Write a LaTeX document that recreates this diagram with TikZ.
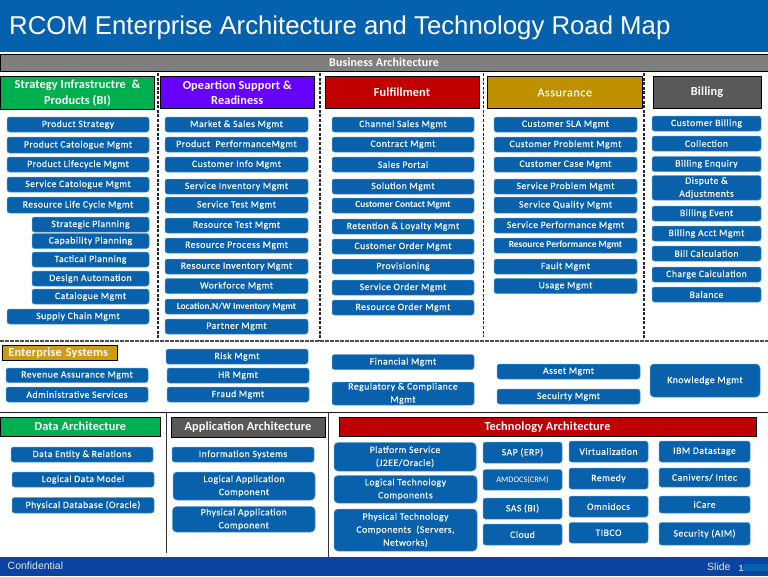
\documentclass[tikz,border=0pt]{standalone}
\usepackage{fontspec}
\setmainfont{Carlito}
\newfontfamily\ttlfont{Liberation Sans}
\newfontfamily\bxfont[LetterSpace=5,FakeBold=0.1]{Carlito}
\newfontfamily\hdfont[LetterSpace=1]{Carlito Bold}
\definecolor{bluebox}{HTML}{0A61AB}
\definecolor{bluetitle}{HTML}{0361AE}
\definecolor{blueedge}{HTML}{4A97C8}
\definecolor{footblue}{HTML}{0B43A0}
\definecolor{grayhead}{HTML}{7F7F7F}
\definecolor{darkhead}{HTML}{595959}
\definecolor{greenhead}{HTML}{00B050}
\definecolor{purplehead}{HTML}{6600FF}
\definecolor{redhead}{HTML}{C00000}
\definecolor{goldhead}{HTML}{BF9000}
\definecolor{goldes}{HTML}{D29A10}
\tikzset{
  ebox/.style={fill=bluebox,draw=blueedge,line width=.5pt,rounded corners=2.5pt,text=white,align=center,inner sep=0pt,font=\fontsize{9.7}{13}\selectfont\bxfont},
  tightbox/.style={ebox,font=\fontsize{9.4}{11}\selectfont\bfseries},
  headbox/.style={draw=black,line width=1pt,text=white,align=center,inner sep=0pt,font=\fontsize{12.3}{15.5}\selectfont\hdfont},
  vdash/.style={draw=black!85,line width=1.1pt,dash pattern=on 3pt off 1.6pt},
  hdash/.style={draw=black!70,line width=1.1pt,dash pattern=on 3.5pt off 1.5pt},
  solidrule/.style={draw=black!90,line width=1.2pt},
  thinrule/.style={draw=black!80,line width=.9pt},
}
\newcommand\ebx[7][ebox]{\node[#1,minimum width={(#5-#3)*1pt},minimum height={(#6-#4)*1pt}] (#2) at ({(#3+#5)/2},{(#4+#6)/2}) {#7};}
\begin{document}
\begin{tikzpicture}[x=1pt,y=-1pt]
\useasboundingbox (0,0) rectangle (768,576);
% bars
\fill[bluetitle] (0,0) rectangle (768,51.5);
\node[anchor=base west,text=white,inner sep=0pt,font=\fontsize{25.75}{30}\selectfont\ttlfont] (title) at (9,34.5) {RCOM Enterprise Architecture and Technology Road Map};
\ebx[headbox,fill=grayhead,line width=.8pt,font=\fontsize{12}{12}\selectfont\hdfont]{bizbar}{0}{54.5}{768}{71}{Business Architecture}
% dashed rules
\draw[vdash] (158,73) -- (158,341);
\draw[vdash] (320,73) -- (320,341);
\draw[vdash] (483.5,73) -- (483.5,337);
\draw[vdash] (644,73) -- (644,338);
\draw[hdash] (0,341) -- (768,341);
\draw[solidrule] (0,412.5) -- (768,412.5);
\draw[thinrule] (166,412.5) -- (166,553);
\draw[thinrule] (328.5,412.5) -- (328.5,557);
% headers
\ebx[headbox,fill=greenhead]{hA}{.5}{76.5}{154.5}{109.5}{Strategy Infrastructre~ \&\\Products (BI)}
\ebx[headbox,fill=purplehead]{hB}{160.5}{76.5}{314}{108.5}{Opeartion Support \&\\Readiness}
\ebx[headbox,fill=redhead]{hC}{325}{76.5}{479}{108.5}{Fulfillment}
\ebx[headbox,fill=goldhead,font=\fontsize{12}{15}\selectfont\bxfont]{hD}{487.5}{76.5}{642}{108.5}{Assurance}
\ebx[headbox,fill=darkhead]{hE}{653}{76.5}{761}{108.5}{Billing}
% column 1
\ebx{a1}{7}{117}{149}{132}{Product Strategy}
\ebx{a2}{7}{137}{149}{153}{Product Catologue Mgmt}
\ebx{a3}{7}{157}{149}{172}{Product Lifecycle Mgmt}
\ebx{a4}{7}{177}{149}{192}{Service Catologue Mgmt}
\ebx{a5}{7}{197}{149}{213}{Resource Life Cycle Mgmt}
\ebx{a6}{32}{217}{149}{232}{Strategic Planning}
\ebx{a7}{32}{233.5}{149}{248.5}{Capability Planning}
\ebx{a8}{32}{252}{149}{267}{Tactical Planning}
\ebx{a9}{32}{271}{149}{286}{Design Automation}
\ebx{a10}{32}{289}{149}{304}{Catalogue Mgmt}
\ebx{a11}{7}{309}{149}{324}{Supply Chain Mgmt}
% column 2
\ebx{b1}{165}{117}{308}{132}{Market \& Sales Mgmt}
\ebx{b2}{165}{137}{308}{152}{Product~ PerformanceMgmt}
\ebx{b3}{165}{157}{308}{172}{Customer Info Mgmt}
\ebx{b4}{165}{179}{308}{194}{Service Inventory Mgmt}
\ebx{b5}{165}{197}{308}{213}{Service Test Mgmt}
\ebx{b6}{165}{218}{308}{233}{Resource Test Mgmt}
\ebx{b7}{165}{238}{308}{253}{Resource Process Mgmt}
\ebx{b8}{165}{259}{308}{274}{Resource Inventory Mgmt}
\ebx{b9}{165}{278.5}{308}{293.5}{Workforce Mgmt}
\ebx[tightbox]{b10}{165}{299}{308}{314}{Location,N/W Inventory Mgmt}
\ebx{b11}{165}{319}{308}{334}{Partner Mgmt}
% column 3
\ebx{c1}{332}{117}{474}{132}{Channel Sales Mgmt}
\ebx{c2}{332}{137}{474}{152}{Contract Mgmt}
\ebx{c3}{332}{157}{474}{172}{Sales Portal}
\ebx{c4}{332}{179}{474}{194}{Solution Mgmt}
\ebx[tightbox]{c5}{332}{198}{474}{213}{Customer Contact Mgmt}
\ebx{c6}{332}{219}{474}{234}{Retention \& Loyalty Mgmt}
\ebx{c7}{332}{239}{474}{254}{Customer Order Mgmt}
\ebx{c8}{332}{259}{474}{274}{Provisioning}
\ebx{c9}{332}{280}{474}{295}{Service Order Mgmt}
\ebx{c10}{332}{300}{474}{315}{Resource Order Mgmt}
% column 4
\ebx{d1}{494}{117}{637}{132}{Customer SLA Mgmt}
\ebx{d2}{494}{137}{637}{152}{Customer Problemt Mgmt}
\ebx{d3}{494}{157}{637}{172}{Customer Case Mgmt}
\ebx{d4}{494}{179}{637}{194}{Service Problem Mgmt}
\ebx{d5}{494}{197}{637}{213}{Service Quality Mgmt}
\ebx{d6}{494}{218}{637}{233}{Service Performance Mgmt}
\ebx[tightbox]{d7}{494}{238}{637}{253}{Resource Performance Mgmt}
\ebx{d8}{494}{259}{637}{274}{Fault Mgmt}
\ebx{d9}{494}{278.5}{637}{293.5}{Usage Mgmt}
% column 5
\ebx{e1}{652}{116}{761}{131}{Customer Billing}
\ebx{e2}{652}{136}{761}{151}{Collection}
\ebx{e3}{652}{156.5}{761}{171.5}{Billing Enquiry}
\ebx{e4}{652}{175.5}{761}{200}{Dispute \&\\Adjustments}
\ebx{e5}{652}{206}{761}{221}{Billing Event}
\ebx{e6}{652}{226}{761}{241}{Billing Acct Mgmt}
\ebx{e7}{652}{246}{761}{261}{Bill Calculation}
\ebx{e8}{652}{267}{761}{282}{Charge Calculation}
\ebx{e9}{652}{287}{761}{302}{Balance}
% enterprise
\ebx[headbox,fill=goldes,line width=.8pt,text width=102pt,align=left]{ent}{2}{345.5}{117}{360}{Enterprise Systems}
\ebx{f1}{6}{368}{148}{382.5}{Revenue Assurance Mgmt}
\ebx{f2}{6}{387}{148}{402}{Administrative Services}
\ebx{f3}{166}{349}{308}{364}{Risk Mgmt}
\ebx{f4}{167}{368}{309}{383}{HR Mgmt}
\ebx{f5}{167}{387}{309}{402}{Fraud Mgmt}
\ebx{f6}{332}{354.5}{474}{369.5}{Financial Mgmt}
\ebx{f7}{332}{382}{474}{405}{Regulatory \& Compliance\\Mgmt}
\ebx{f8}{497}{364}{640}{379}{Asset Mgmt}
\ebx{f9}{497}{389}{640}{404}{Secuirty Mgmt}
\ebx[ebox,rounded corners=4pt]{f10}{650}{364}{760}{397}{Knowledge Mgmt}
% lower headers
\ebx[headbox,fill=greenhead]{hF}{.5}{417}{160}{436}{Data Architecture}
\ebx[headbox,fill=darkhead]{hG}{171}{417.5}{325}{437}{Application Architecture}
\ebx[headbox,fill=redhead]{hH}{339}{417.5}{756}{436}{Technology Architecture}
% data
\ebx{g1}{11}{447}{153}{462}{Data Entity \& Relations}
\ebx{g2}{12}{472}{154}{487}{Logical Data Model}
\ebx{g3}{12}{497.5}{154}{513}{Physical Database (Oracle)}
% application
\ebx{h1}{172}{447}{314}{462}{Information Systems}
\ebx[ebox,rounded corners=4pt]{h2}{173}{472}{315}{500}{Logical Application\\Component}
\ebx[ebox,rounded corners=4pt]{h3}{172.5}{506.5}{315}{532}{Physical Application\\Component}
% technology
\ebx[ebox,rounded corners=4pt]{i1}{334}{442.5}{476}{471}{Platform Service\\(J2EE/Oracle)}
\ebx[ebox,rounded corners=4pt]{i2}{334}{475.5}{477}{503}{Logical Technology\\Components}
\ebx[ebox,rounded corners=4pt]{i3}{334}{509}{477}{551}{Physical Technology\\Components~ (Servers,\\Networks)}
\ebx{j1}{483}{442}{562}{463}{SAP (ERP)}
\ebx[ebox,font=\fontsize{8.4}{10}\selectfont]{j2}{483}{469.5}{562}{490}{AMDOCS(CRM)}
\ebx{j3}{483}{498}{562}{519}{SAS (BI)}
\ebx{j4}{483}{524}{562}{545}{Cloud}
\ebx{k1}{569}{441}{648}{462}{Virtualization}
\ebx{k2}{569}{468}{648}{489}{Remedy}
\ebx{k3}{569}{496}{648}{517}{Omnidocs}
\ebx{k4}{569}{522.5}{648}{543}{TIBCO}
\ebx{l1}{659}{441}{750}{462}{IBM Datastage}
\ebx{l2}{659}{468}{750}{487}{Canivers/ Intec}
\ebx{l3}{659}{496}{750}{513}{iCare}
\ebx{l4}{659}{522.5}{750}{545}{Security (AIM)}
% footer
\fill[footblue] (0,557) rectangle (768,576);
\fill[bluetitle] (743,563.5) rectangle (768,570.5);
\node[anchor=base west,inner sep=0pt,text=black!10,font=\fontsize{10.5}{12}\selectfont\ttlfont] (conf) at (7.5,569) {Confidential};
\node[anchor=base west,inner sep=0pt,text=black!10,font=\fontsize{10.5}{12}\selectfont\ttlfont] (slide) at (707,570) {Slide};
\node[anchor=base west,inner sep=0pt,text=black!20,font=\fontsize{9}{12}\selectfont\bfseries\ttlfont] (slidenum) at (738.5,571) {1};
\end{tikzpicture}
\end{document}
